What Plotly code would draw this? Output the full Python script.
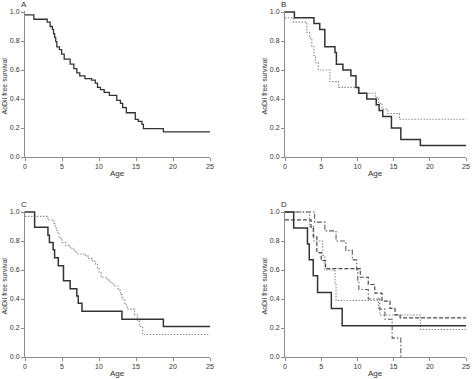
import plotly.graph_objects as go

# ---------------- data ----------------
x_ticks = [0, 5, 10, 15, 20, 25]
y_ticks = [0.0, 0.2, 0.4, 0.6, 0.8, 1.0]
y_tick_labels = ["0.0", "0.2", "0.4", "0.6", "0.8", "1.0"]
panel_letters = ["A", "B", "C", "D"]
x_title = "Age"
y_title = "AoDil free survival"

# Panel A: overall
a_time = [0, 1.2, 3.0, 3.4, 3.7, 3.85, 4.0, 4.15, 4.3, 4.65, 4.95, 5.3, 6.1, 6.6, 7.0,
          7.4, 8.1, 9.0, 9.5, 9.8, 10.2, 10.7, 11.4, 12.4, 12.9, 13.2, 13.7, 14.9,
          15.3, 15.8, 16.0, 18.7, 25]
a_surv = [0.98, 0.95, 0.93, 0.90, 0.88, 0.85, 0.825, 0.795, 0.76, 0.74, 0.71, 0.675,
          0.64, 0.61, 0.58, 0.56, 0.54, 0.53, 0.51, 0.48, 0.465, 0.445, 0.425, 0.39,
          0.37, 0.34, 0.305, 0.26, 0.245, 0.225, 0.195, 0.173, 0.173]

# Panel B
b1_time = [0, 1.3, 4.0, 4.8, 5.5, 6.9, 7.1, 8.0, 9.1, 9.8, 10.2, 11.3, 12.6, 13.0, 13.5,
           14.7, 16.0, 18.7, 25]
b1_surv = [1.0, 0.96, 0.92, 0.88, 0.76, 0.72, 0.64, 0.60, 0.56, 0.48, 0.44, 0.40, 0.36,
           0.32, 0.28, 0.20, 0.12, 0.08, 0.08]
b2_time = [0, 1.2, 3.0, 3.4, 3.7, 4.0, 4.2, 4.6, 6.2, 7.4, 10.1, 12.5, 12.9, 13.4, 14.2,
           15.8, 25]
b2_surv = [0.96, 0.93, 0.86, 0.82, 0.76, 0.70, 0.65, 0.60, 0.52, 0.48, 0.44, 0.41, 0.37,
           0.33, 0.30, 0.26, 0.26]

# Panel C
c1_time = [0, 1.3, 3.1, 3.3, 3.8, 4.0, 4.5, 5.2, 6.1, 7.0, 7.2, 7.7, 13.1, 18.7, 25]
c1_surv = [1.0, 0.895, 0.84, 0.79, 0.74, 0.685, 0.63, 0.525, 0.47, 0.42, 0.37, 0.315,
           0.26, 0.21, 0.21]
c2_time = [0, 3.1, 3.9, 4.1, 4.3, 4.6, 5.0, 5.5, 6.1, 6.6, 7.0, 8.0, 8.5, 9.1, 9.5, 9.8,
           10.0, 10.3, 11.1, 11.5, 12.0, 12.6, 12.9, 13.1, 13.5, 13.8, 14.8, 15.2, 15.5,
           15.9, 25]
c2_surv = [0.97, 0.945, 0.92, 0.89, 0.86, 0.82, 0.79, 0.77, 0.75, 0.73, 0.71, 0.70, 0.68,
           0.66, 0.64, 0.61, 0.58, 0.55, 0.53, 0.51, 0.49, 0.46, 0.43, 0.40, 0.36, 0.33,
           0.29, 0.25, 0.21, 0.155, 0.155]

# Panel D
d1_time = [0, 1.2, 3.1, 3.35, 3.9, 4.5, 6.4, 7.9, 25]
d1_surv = [1.0, 0.89, 0.78, 0.67, 0.56, 0.445, 0.335, 0.215, 0.215]
d2_time = [0, 3.4, 4.0, 5.2, 5.5, 6.9, 7.05, 12.9, 13.1, 18.7, 25]
d2_surv = [1.0, 0.90, 0.80, 0.70, 0.60, 0.50, 0.39, 0.33, 0.29, 0.19, 0.19]
d3_time = [0, 3.6, 3.9, 4.4, 5.0, 5.6, 10.4, 11.5, 12.4, 13.4, 14.5, 15.2, 15.9, 25]
d3_surv = [0.945, 0.89, 0.83, 0.72, 0.665, 0.61, 0.55, 0.50, 0.44, 0.385, 0.335, 0.29,
           0.27, 0.27]
d4_time = [0, 4.1, 5.5, 7.05, 8.4, 9.3, 9.9, 10.05, 10.2, 11.5, 13.1, 13.8, 14.8, 16.0]
d4_surv = [1.0, 0.93, 0.87, 0.80, 0.735, 0.67, 0.60, 0.53, 0.465, 0.40, 0.33, 0.26,
           0.13, 0.0]

# ---------------- layout geometry ----------------
W, H = 474, 379
FONT = "Liberation Sans, Arial, sans-serif"

def px_x(p):
    return p / W

def px_y(p):
    return 1 - p / H

panels = {
    1: dict(x0=25, x1=210, y0=12, y1=157),
    2: dict(x0=285, x1=466, y0=12, y1=157),
    3: dict(x0=25, x1=210, y0=212, y1=357),
    4: dict(x0=285, x1=466, y0=212, y1=357),
}

SOLID = dict(color="#333333", width=1.5, dash="solid")
SOLID_A = dict(color="#333333", width=1.3, dash="solid")
DOT = dict(color="#8a8a8a", width=1.1, dash="1.5px,1.5px")
DASH = dict(color="#4a4a4a", width=1.2, dash="4px,2px")
DASHDOT = dict(color="#5a5a5a", width=1.1, dash="5px,2px,1.5px,2px")

series = [
    (1, a_time, a_surv, SOLID_A),
    (2, b2_time, b2_surv, DOT),
    (2, b1_time, b1_surv, SOLID),
    (3, c2_time, c2_surv, DOT),
    (3, c1_time, c1_surv, SOLID),
    (4, d2_time, d2_surv, DOT),
    (4, d3_time, d3_surv, DASH),
    (4, d4_time, d4_surv, DASHDOT),
    (4, d1_time, d1_surv, SOLID),
]

fig = go.Figure()
for idx, t, s, style in series:
    suffix = "" if idx == 1 else str(idx)
    fig.add_trace(go.Scatter(
        x=t, y=s, mode="lines", line=dict(shape="hv", **style),
        xaxis="x" + suffix, yaxis="y" + suffix, showlegend=False, hoverinfo="skip",
    ))

layout = dict(
    width=W, height=H,
    margin=dict(l=0, r=0, t=0, b=0),
    paper_bgcolor="white", plot_bgcolor="white",
    font=dict(family=FONT, size=7, color="#333"),
    showlegend=False,
)

annotations = []
for idx, g in panels.items():
    suffix = "" if idx == 1 else str(idx)
    top_ext = 1.5  # tiny headroom so lines at 1.0 are not clipped
    layout["xaxis" + suffix] = dict(
        domain=[px_x(g["x0"]), px_x(g["x1"])],
        anchor="y" + suffix, range=[0, 25],
        tickvals=x_ticks, ticktext=[str(v) for v in x_ticks],
        showline=True, linecolor="#8c8c8c", linewidth=1,
        ticks="outside", ticklen=3, tickcolor="#8c8c8c", tickwidth=1,
        showgrid=False, zeroline=False, automargin=False,
        tickfont=dict(family=FONT, size=7, color="#333"),
        fixedrange=True,
    )
    layout["yaxis" + suffix] = dict(
        domain=[px_y(g["y1"]), px_y(g["y0"] - top_ext)],
        anchor="x" + suffix, range=[0, 1 + top_ext / (g["y1"] - g["y0"])],
        tickvals=y_ticks, ticktext=y_tick_labels,
        showline=True, linecolor="#8c8c8c", linewidth=1,
        ticks="outside", ticklen=3, tickcolor="#8c8c8c", tickwidth=1,
        showgrid=False, zeroline=False, automargin=False,
        tickfont=dict(family=FONT, size=7, color="#333"),
        fixedrange=True,
    )
    cx = (g["x0"] + g["x1"]) / 2
    # x title
    annotations.append(dict(
        text=x_title, x=px_x(cx), y=px_y(g["y1"] + 16), xref="paper", yref="paper",
        showarrow=False, xanchor="center", yanchor="middle",
        font=dict(family=FONT, size=8, color="#333"),
    ))
    # y title
    annotations.append(dict(
        text=y_title, x=px_x(g["x0"] - 21), y=px_y((g["y0"] + g["y1"]) / 2 + 2),
        xref="paper", yref="paper", showarrow=False, textangle=-90,
        xanchor="center", yanchor="middle",
        font=dict(family=FONT, size=7, color="#333"),
    ))
    # panel letter
    annotations.append(dict(
        text=panel_letters[idx - 1], x=px_x(g["x0"] - 6), y=px_y(g["y0"] - 8),
        xref="paper", yref="paper", showarrow=False, xanchor="left", yanchor="middle",
        font=dict(family=FONT, size=8, color="#333"),
    ))

layout["annotations"] = annotations
fig.update_layout(**layout)
fig.write_html(
    "out.html",
    config={"displayModeBar": False, "staticPlot": True},
    post_script="document.body.style.margin='0px';document.body.style.padding='0px';"
                "document.body.style.overflow='hidden';",
)
